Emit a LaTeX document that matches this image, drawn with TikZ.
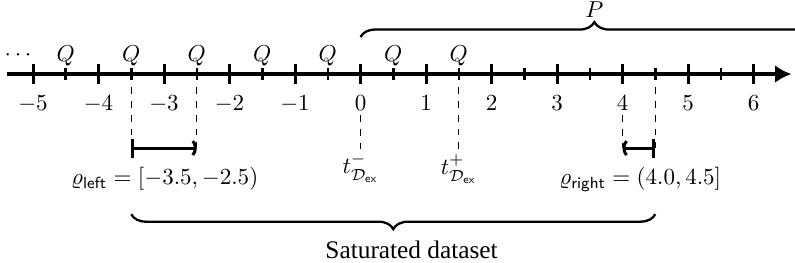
\documentclass[tikz,border=0pt]{standalone}
\usepackage{amsmath,amssymb}
\usepackage{fontspec}
\newfontfamily\satfont{Liberation Serif}
\usepackage{tikz}
\usetikzlibrary{arrows.meta,calc,decorations.pathreplacing}

\begin{document}
\begin{tikzpicture}[>=Latex,
  majortick/.style={line width=1.3pt},
  minortick/.style={line width=1.1pt},
  guide/.style={dashed,line width=0.5pt},
  interval/.style={line width=1.3pt},
  brc/.style={line width=1pt,decorate,decoration={brace,amplitude=6.5pt}},
  num/.style={anchor=base,inner sep=2pt}]
\path[use as bounding box] (-5.504,-2.87) rectangle (6.633,1.13);
% 数轴与刻度
\coordinate (xs) at (-5.4,0);
\coordinate (xe) at (6.58,0);
\draw[line width=1.5pt,-{Latex[length=2.5mm,width=2.7mm]}] (xs)--(xe);
\foreach \x in {-5,...,6} {
  \draw[majortick] (\x,-.15)--(\x,.15);
  \node[num] (lab\x) at (\x,-.55) {$\x$};
}
\foreach \x in {-4.5,-3.5,...,5.5}
  \draw[minortick] (\x,-.09)--(\x,.09);
% 半整数点上的 Q
\node[num] (dots) at (-5.2,.2) {$\cdots$};
\foreach \x [count=\i] in {-4.5,-3.5,...,1.5}
  \node[num] (q\i) at (\x,.19) {$Q$};
% 上方的 P
\coordinate (pl) at (0,.565);
\coordinate (pr) at (7.14,.565);
\draw[brc] (pl)--(pr);
\node (P) at (3.57,.98) {$P$};
% 两个区间
\coordinate (lo) at (-3.5,-1.13);
\coordinate (lc) at (-2.5,-1.13);
\coordinate (ro) at (4.0,-1.13);
\coordinate (rc) at (4.5,-1.13);
\draw[interval,{Bar[width=2.9mm]}-{Parenthesis[width=2.9mm,length=1mm]}] (lo)--(lc);
\draw[interval,{Parenthesis[width=2.9mm,length=1mm]}-{Bar[width=2.9mm]}] (ro)--(rc);
\node[num] (rl) at (-2.99,-1.69) {$\varrho_{\mathsf{left}}=[-3.5,-2.5)$};
\node[num] (rr) at (4.27,-1.69) {$\varrho_{\mathsf{right}}=(4.0,4.5]$};
% t 的位置
\node[num] (tm) at (0,-1.52) {$t^-_{\mathcal{D}_{\mathsf{ex}}}$};
\node[num] (tp) at (1.5,-1.53) {$t^+_{\mathcal{D}_{\mathsf{ex}}}$};
% 虚线
\coordinate (glo) at (-3.5,-.2);
\coordinate (glc) at (-2.5,-.2);
\coordinate (gtp) at (1.5,-.2);
\coordinate (grc) at (4.5,-.2);
\draw[guide] (glo)--(lo);
\draw[guide] (glc)--(lc);
\draw[guide] (lab0.south)--(tm.north);
\draw[guide] (gtp)--(tp.north);
\draw[guide] (lab4.south)--(ro);
\draw[guide] (grc)--(rc);
% 下方的饱和数据集
\coordinate (sl) at (-3.5,-2.14);
\coordinate (sr) at (4.5,-2.14);
\draw[brc] (sr)--(sl);
\node[font=\fontsize{11}{13}\selectfont] (sat) at (.78,-2.69) {\satfont Saturated dataset};
\end{tikzpicture}
\end{document}
